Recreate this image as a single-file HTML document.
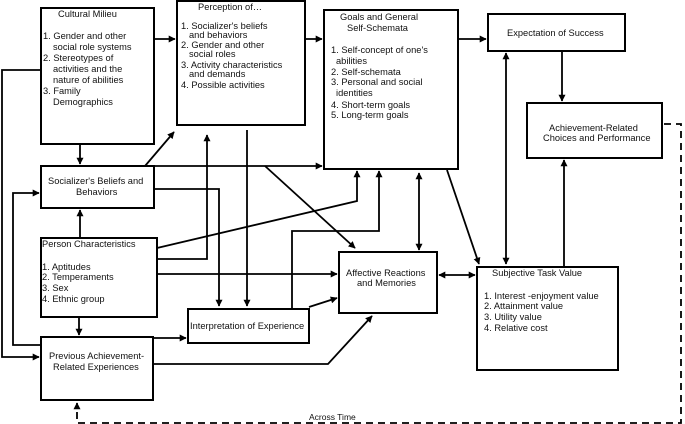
<!DOCTYPE html>
<html><head><meta charset="utf-8"><style>
html,body{margin:0;padding:0;background:#fff;}
svg{display:block;}
text{font-family:"Liberation Sans",Arial,sans-serif;font-size:9.3px;fill:#111;}
</style></head><body>
<svg width="685" height="424" viewBox="0 0 685 424" xmlns="http://www.w3.org/2000/svg">
<defs>
<marker id="a" viewBox="0 0 10 10" refX="9" refY="5" markerWidth="7" markerHeight="7" markerUnits="userSpaceOnUse" orient="auto-start-reverse">
<path d="M0,0 L10,5 L0,10 z" fill="#000"/></marker>
</defs>
<g fill="none" stroke="#000" stroke-width="2">
<!-- boxes -->
<rect x="41" y="8" width="113" height="136"/>
<rect x="177" y="1" width="128" height="124"/>
<rect x="41" y="166" width="113" height="42"/>
<rect x="324" y="10" width="134" height="159"/>
<rect x="488" y="14" width="137" height="37"/>
<rect x="527" y="103" width="135" height="55"/>
<rect x="339" y="252" width="98" height="61"/>
<rect x="477" y="267" width="141" height="103"/>
<rect x="41" y="238" width="116" height="79"/>
<rect x="41" y="337" width="112" height="63"/>
<rect x="188" y="309" width="121" height="34"/>
</g>
<g fill="none" stroke="#000" stroke-width="1.8">
<line x1="154" y1="39" x2="175" y2="39" marker-end="url(#a)"/>
<line x1="305" y1="39" x2="322" y2="39" marker-end="url(#a)"/>
<line x1="458" y1="39" x2="486" y2="39" marker-end="url(#a)"/>
<line x1="80" y1="144" x2="80" y2="164" marker-end="url(#a)"/>
<polyline points="41,70 2,70 2,357 39,357" marker-end="url(#a)"/>
<polyline points="41,345 13,345 13,193 39,193" marker-end="url(#a)" marker-start="none"/>
<line x1="145" y1="166" x2="174" y2="132" marker-end="url(#a)"/>
<line x1="154" y1="166" x2="322" y2="166" marker-end="url(#a)"/>
<line x1="265" y1="166" x2="355" y2="248" marker-end="url(#a)"/>
<polyline points="154,189 219,189 219,306" marker-end="url(#a)"/>
<line x1="247" y1="130" x2="247" y2="306" marker-end="url(#a)"/>
<polyline points="157,259 207,259 207,135" marker-end="url(#a)"/>
<line x1="80" y1="237" x2="80" y2="210" marker-end="url(#a)"/>
<line x1="79" y1="317" x2="79" y2="335" marker-end="url(#a)"/>
<line x1="157" y1="274" x2="337" y2="274" marker-end="url(#a)"/>
<polyline points="157,248 357,201 357,171" marker-end="url(#a)"/>
<polyline points="292,309 292,231 379,231 379,171" marker-end="url(#a)"/>
<line x1="309" y1="307" x2="337" y2="298" marker-end="url(#a)"/>
<line x1="153" y1="338" x2="186" y2="338" marker-end="url(#a)"/>
<polyline points="153,364 328,364 372,316" marker-end="url(#a)"/>
<line x1="419" y1="173" x2="419" y2="250" marker-end="url(#a)" marker-start="url(#a)"/>
<line x1="447" y1="170" x2="479" y2="264" marker-end="url(#a)"/>
<line x1="439" y1="275" x2="475" y2="275" marker-end="url(#a)" marker-start="url(#a)"/>
<line x1="506" y1="53" x2="506" y2="264" marker-end="url(#a)" marker-start="url(#a)"/>
<line x1="562" y1="51" x2="562" y2="101" marker-end="url(#a)"/>
<line x1="564" y1="267" x2="564" y2="160" marker-end="url(#a)"/>
<polyline points="664,124 681,124 681,423 77,423 77,403" stroke-dasharray="7,5" marker-end="url(#a)"/>
</g>
<g>
<text x="58" y="17">Cultural Milieu</text>
<text x="43" y="39">1. Gender and other</text>
<text x="53" y="50">social role systems</text>
<text x="43" y="61">2. Stereotypes of</text>
<text x="53" y="72">activities and  the</text>
<text x="53" y="83">nature of abilities</text>
<text x="43" y="94">3. Family</text>
<text x="53" y="105">Demographics</text>

<text x="198" y="10">Perception of…</text>
<text x="181" y="29">1. Socializer's beliefs</text>
<text x="189" y="38">and behaviors</text>
<text x="181" y="48">2. Gender and other</text>
<text x="189" y="57">social roles</text>
<text x="181" y="68">3. Activity characteristics</text>
<text x="189" y="77">and demands</text>
<text x="181" y="88">4. Possible activities</text>

<text x="48" y="184">Socializer's  Beliefs and</text>
<text x="76" y="195">Behaviors</text>

<text x="340" y="20">Goals and General</text>
<text x="347" y="31">Self-Schemata</text>
<text x="331" y="53">1. Self-concept of one's</text>
<text x="336" y="64">abilities</text>
<text x="331" y="75">2. Self-schemata</text>
<text x="331" y="85">3. Personal and social</text>
<text x="336" y="96">identities</text>
<text x="331" y="108">4. Short-term goals</text>
<text x="331" y="118">5. Long-term goals</text>

<text x="507" y="36">Expectation of Success</text>
<text x="549" y="131">Achievement-Related</text>
<text x="543" y="141">Choices and Performance</text>

<text x="346" y="276">Affective Reactions</text>
<text x="357" y="286">and Memories</text>

<text x="492" y="276">Subjective Task Value</text>
<text x="484" y="299">1. Interest -enjoyment value</text>
<text x="484" y="309">2. Attainment value</text>
<text x="484" y="320">3. Utility value</text>
<text x="484" y="331">4. Relative cost</text>

<text x="42" y="247">Person Characteristics</text>
<text x="42" y="270">1. Aptitudes</text>
<text x="42" y="280">2. Temperaments</text>
<text x="42" y="291">3. Sex</text>
<text x="42" y="302">4. Ethnic group</text>

<text x="49" y="359">Previous Achievement-</text>
<text x="53" y="370">Related Experiences</text>

<text x="190" y="329">Interpretation of Experience</text>

<text x="309" y="420" style="font-size:8.5px">Across Time</text>
</g>
</svg>
</body></html>
